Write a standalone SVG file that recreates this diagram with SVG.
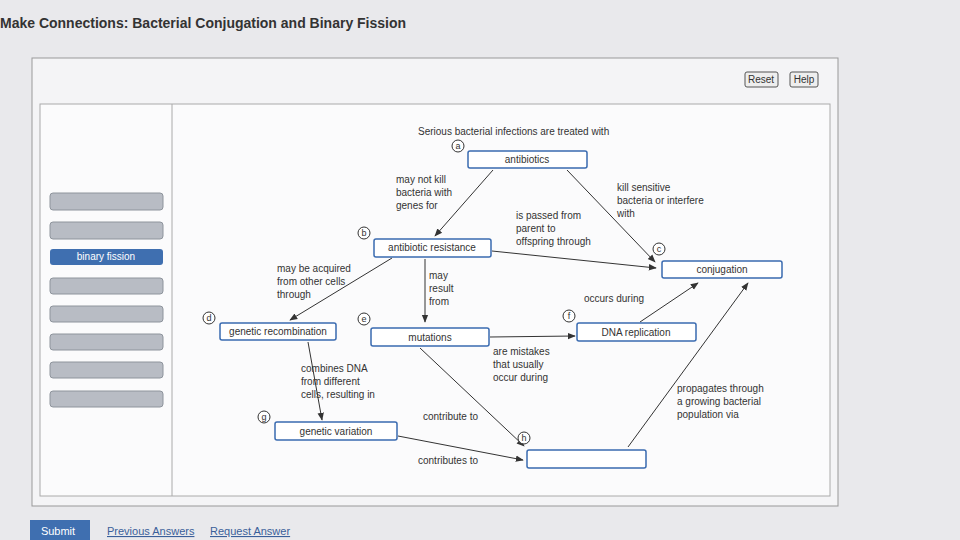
<svg xmlns="http://www.w3.org/2000/svg" width="960" height="540" viewBox="0 0 960 540">
<defs>
<style>
text{font-family:"Liberation Sans",Arial,sans-serif;fill:#333}
.l{font-size:10px}
.n rect{fill:#fff;stroke:#3a6bb0;stroke-width:1.5}
.n text{font-size:10px;text-anchor:middle}
.c circle{fill:#fff;stroke:#333;stroke-width:1}
.c text{font-size:9px;text-anchor:middle}
.s{fill:#b8bcc4;stroke:#8e949c}
#conn line{stroke:#333;stroke-width:1;marker-end:url(#ah)}
</style>
<marker id="ah" viewBox="0 0 10 10" refX="9" refY="5" markerWidth="8" markerHeight="8" orient="auto"><path d="M0,1 L10,5 L0,9z" fill="#333"/></marker>
</defs>
<rect width="960" height="540" fill="#e9e9ec"/>
<text x="0" y="28" font-size="14" font-weight="bold">Make Connections: Bacterial Conjugation and Binary Fission</text>
<rect x="32" y="58" width="806" height="448" fill="#f4f4f6" stroke="#999"/>
<rect x="40" y="104" width="790" height="392" fill="#fbfbfc" stroke="#aaa"/>
<line x1="172" y1="104" x2="172" y2="496" stroke="#aaa"/>
<g id="buttons"><rect x="745" y="72" width="33" height="15" fill="#eee" stroke="#555" rx="2"/><text x="761" y="83" font-size="10" text-anchor="middle">Reset</text><rect x="790" y="72" width="28" height="15" fill="#eee" stroke="#555" rx="2"/><text x="804" y="83" font-size="10" text-anchor="middle">Help</text></g>
<g id="sidebar">
<rect class="s" x="50" y="193" width="113" height="17" rx="3"/>
<rect class="s" x="50" y="222" width="113" height="17" rx="3"/>
<rect x="50" y="249" width="113" height="16" rx="3" fill="#3f6fb0"/><text x="106" y="260" font-size="10" text-anchor="middle" style="fill:#fff">binary fission</text>
<rect class="s" x="50" y="278" width="113" height="16" rx="3"/>
<rect class="s" x="50" y="306" width="113" height="16" rx="3"/>
<rect class="s" x="50" y="334" width="113" height="16" rx="3"/>
<rect class="s" x="50" y="362" width="113" height="16" rx="3"/>
<rect class="s" x="50" y="391" width="113" height="16" rx="3"/>
</g>
<text x="418" y="135" font-size="10">Serious bacterial infections are treated with</text>
<g id="conn">
<line x1="493" y1="170" x2="435" y2="236"/>
<line x1="567" y1="170" x2="655" y2="262"/>
<line x1="492" y1="251" x2="656" y2="268"/>
<line x1="425" y1="259" x2="425" y2="322"/>
<line x1="392" y1="258" x2="290" y2="320"/>
<line x1="490" y1="337" x2="575" y2="336"/>
<line x1="640" y1="322" x2="698" y2="283"/>
<line x1="308" y1="342" x2="322" y2="420"/>
<line x1="420" y1="348" x2="524" y2="446"/>
<line x1="398" y1="436" x2="523" y2="460"/>
<line x1="628" y1="447" x2="748" y2="283"/>
</g>
<g class="l">
<text x="396" y="183">may not kill</text><text x="396" y="196">bacteria with</text><text x="396" y="209">genes for</text>
<text x="617" y="191">kill sensitive</text><text x="617" y="204">bacteria or interfere</text><text x="617" y="217">with</text>
<text x="516" y="219">is passed from</text><text x="516" y="232">parent to</text><text x="516" y="245">offspring through</text>
<text x="277" y="272">may be acquired</text><text x="277" y="285">from other cells</text><text x="277" y="298">through</text>
<text x="429" y="279">may</text><text x="429" y="292">result</text><text x="429" y="305">from</text>
<text x="584" y="302">occurs during</text>
<text x="493" y="355">are mistakes</text><text x="493" y="368">that usually</text><text x="493" y="381">occur during</text>
<text x="301" y="372">combines DNA</text><text x="301" y="385">from different</text><text x="301" y="398">cells, resulting in</text>
<text x="677" y="392">propagates through</text><text x="677" y="405">a growing bacterial</text><text x="677" y="418">population via</text>
<text x="423" y="420">contribute to</text>
<text x="418" y="464">contributes to</text>
</g>
<g id="a" class="c"><circle cx="458" cy="146" r="6"/><text x="458" y="149">a</text></g>
<g id="antibiotics" class="n"><rect x="468" y="151" width="119" height="17" rx="2"/><text x="527" y="163">antibiotics</text></g>
<g id="b" class="c"><circle cx="364" cy="233" r="6"/><text x="364" y="236">b</text></g>
<g id="resistance" class="n"><rect x="374" y="239" width="117" height="18" rx="2"/><text x="432" y="251">antibiotic resistance</text></g>
<g id="c" class="c"><circle cx="659" cy="249" r="6"/><text x="659" y="252">c</text></g>
<g id="conjugation" class="n"><rect x="662" y="261" width="120" height="17" rx="2"/><text x="722" y="273">conjugation</text></g>
<g id="d" class="c"><circle cx="209" cy="318" r="6"/><text x="209" y="321">d</text></g>
<g id="recombination" class="n"><rect x="220" y="323" width="116" height="17" rx="2"/><text x="278" y="335">genetic recombination</text></g>
<g id="e" class="c"><circle cx="364" cy="319" r="6"/><text x="364" y="322">e</text></g>
<g id="mutations" class="n"><rect x="371" y="328" width="118" height="18" rx="2"/><text x="430" y="341">mutations</text></g>
<g id="f" class="c"><circle cx="569" cy="316" r="6"/><text x="569" y="319">f</text></g>
<g id="replication" class="n"><rect x="577" y="323" width="119" height="18" rx="2"/><text x="636" y="336">DNA replication</text></g>
<g id="g" class="c"><circle cx="264" cy="417" r="6"/><text x="264" y="420">g</text></g>
<g id="variation" class="n"><rect x="275" y="422" width="122" height="18" rx="2"/><text x="336" y="435">genetic variation</text></g>
<g id="h" class="c"><circle cx="524" cy="438" r="6"/><text x="524" y="441">h</text></g>
<g id="empty" class="n"><rect x="527" y="450" width="119" height="18" rx="2"/></g>
<rect x="30" y="520" width="60" height="20" fill="#3f6fb0"/><text x="58" y="535" font-size="11" text-anchor="middle" style="fill:#fff">Submit</text>
<text x="107" y="535" font-size="11" text-decoration="underline" style="fill:#3a5f9a">Previous Answers</text>
<text x="210" y="535" font-size="11" text-decoration="underline" style="fill:#3a5f9a">Request Answer</text>
</svg>
